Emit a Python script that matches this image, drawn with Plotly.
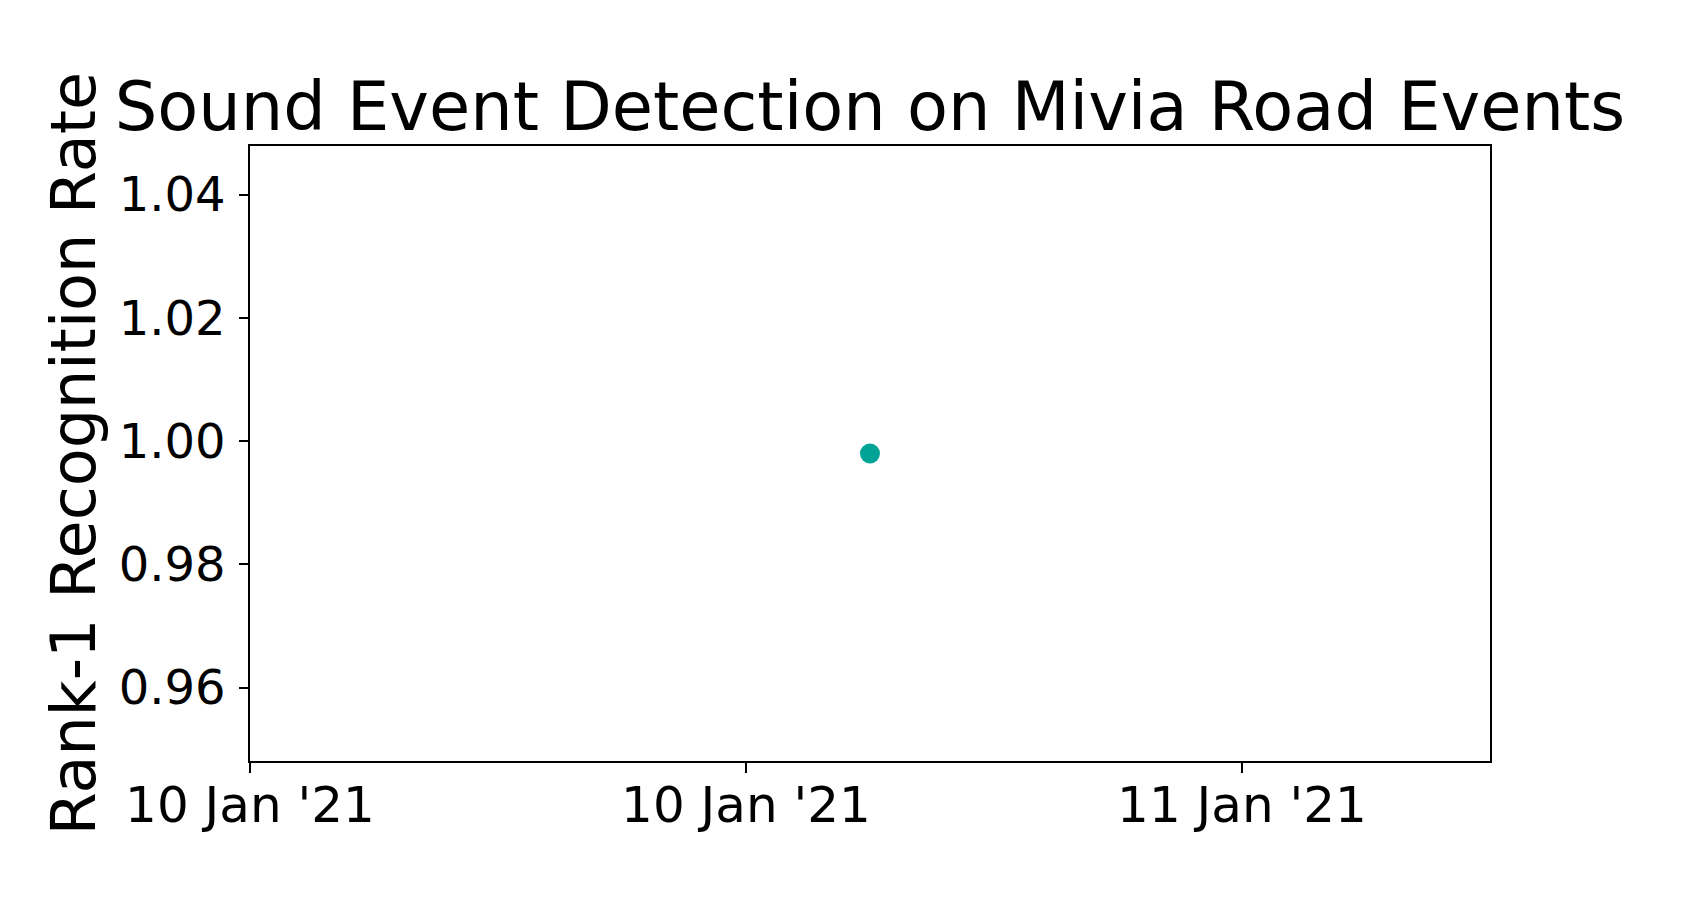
import plotly.graph_objects as go

# Data
dates = ["2021-01-10 15:00"]
values = [0.998]

# Axis ticks
x_tickvals = ["2021-01-10 00:00", "2021-01-10 12:00", "2021-01-11 00:00"]
x_ticktext = ["10 Jan '21", "10 Jan '21", "11 Jan '21"]
y_tickvals = [0.96, 0.98, 1.00, 1.02, 1.04]

title_text = "Sound Event Detection on Mivia Road Events"
y_title = "Rank-1 Recognition Rate"

FONT = "DejaVu Sans"

fig = go.Figure()
fig.add_trace(go.Scatter(
    x=dates, y=values, mode="markers",
    marker=dict(color="#00A396", size=20, line=dict(width=0)),
    showlegend=False,
))

fig.update_layout(
    width=1700, height=900,
    margin=dict(l=242, r=218, t=138, b=147),
    paper_bgcolor="white", plot_bgcolor="white",
    font=dict(family=FONT, color="black"),
    title=dict(
        text=title_text, font=dict(family=FONT, size=67, color="black"),
        x=0.507, xanchor="center", xref="container",
        y=(900 - 122) / 900, yanchor="bottom", yref="container",
    ),
)

fig.update_xaxes(
    type="date",
    range=["2021-01-10 00:00", "2021-01-11 06:00"],
    tickmode="array", tickvals=x_tickvals, ticktext=x_ticktext,
    ticks="outside", ticklen=10, tickwidth=1.5, tickcolor="black",
    showline=True, linecolor="black", linewidth=1.5, mirror=True,
    showgrid=False, zeroline=False,
    tickfont=dict(family=FONT, size=50, color="black"),
    ticklabelstandoff=-11,
)

fig.update_yaxes(
    range=[0.9481, 1.0479],
    tickmode="array", tickvals=y_tickvals, tickformat=".2f",
    ticks="outside", ticklen=9, tickwidth=1.5, tickcolor="black",
    showline=True, linecolor="black", linewidth=1.5, mirror=True,
    showgrid=False, zeroline=False,
    tickfont=dict(family=FONT, size=48, color="black"),
    ticklabelstandoff=4,
    title=dict(text=y_title, font=dict(family=FONT, size=62, color="black"), standoff=3),
)

fig.write_html("out.html")
